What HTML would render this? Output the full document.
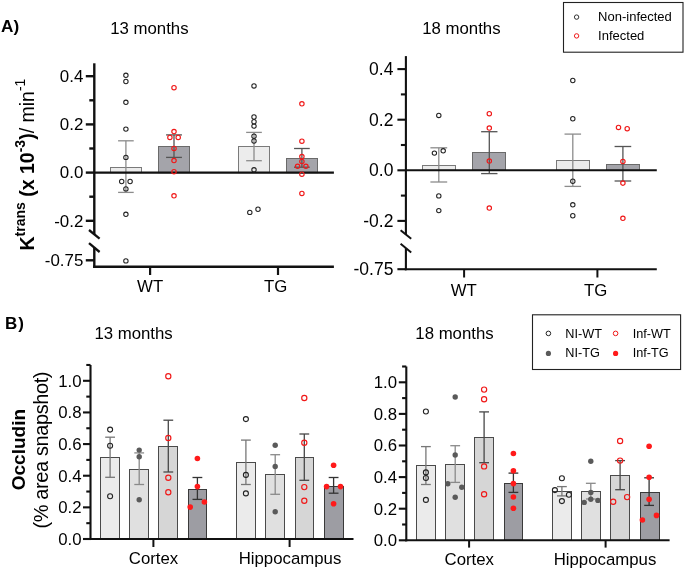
<!DOCTYPE html>
<html><head><meta charset="utf-8"><title>Figure</title>
<style>
html,body{margin:0;padding:0;background:#fff;}
body{width:685px;height:570px;overflow:hidden;}
svg{display:block;font-family:"Liberation Sans", Arial, sans-serif;}
</style></head>
<body>
<svg width="685" height="570" viewBox="0 0 685 570">
<rect x="0" y="0" width="685" height="570" fill="#fff"/>
<rect x="110.50" y="167.50" width="31.00" height="5.10" fill="#ececec" stroke="#7a7a7a" stroke-width="1.0"/>
<rect x="158.50" y="146.50" width="31.00" height="26.10" fill="#a4a4aa" stroke="#6a6a6a" stroke-width="1.0"/>
<rect x="238.50" y="146.50" width="31.00" height="26.10" fill="#ececec" stroke="#7a7a7a" stroke-width="1.0"/>
<rect x="286.50" y="158.50" width="31.00" height="14.10" fill="#a4a4aa" stroke="#6a6a6a" stroke-width="1.0"/>
<line x1="125.90" y1="140.80" x2="125.90" y2="192.40" stroke="#8c8c8c" stroke-width="1.3"/>
<line x1="118.08" y1="140.80" x2="133.72" y2="140.80" stroke="#8c8c8c" stroke-width="1.3"/>
<line x1="118.08" y1="192.40" x2="133.72" y2="192.40" stroke="#8c8c8c" stroke-width="1.3"/>
<line x1="174.00" y1="134.90" x2="174.00" y2="157.40" stroke="#555" stroke-width="1.3"/>
<line x1="166.07" y1="134.90" x2="181.93" y2="134.90" stroke="#555" stroke-width="1.3"/>
<line x1="166.07" y1="157.40" x2="181.93" y2="157.40" stroke="#555" stroke-width="1.3"/>
<line x1="254.00" y1="132.40" x2="254.00" y2="160.70" stroke="#8c8c8c" stroke-width="1.3"/>
<line x1="246.15" y1="132.40" x2="261.85" y2="132.40" stroke="#8c8c8c" stroke-width="1.3"/>
<line x1="246.15" y1="160.70" x2="261.85" y2="160.70" stroke="#8c8c8c" stroke-width="1.3"/>
<line x1="301.90" y1="148.50" x2="301.90" y2="167.20" stroke="#555" stroke-width="1.3"/>
<line x1="294.05" y1="148.50" x2="309.75" y2="148.50" stroke="#555" stroke-width="1.3"/>
<line x1="294.05" y1="167.20" x2="309.75" y2="167.20" stroke="#555" stroke-width="1.3"/>
<line x1="94.30" y1="172.60" x2="333.90" y2="172.60" stroke="#111" stroke-width="2.4"/>
<circle cx="125.90" cy="75.30" r="2.2" fill="none" stroke="#222" stroke-width="1.05"/>
<circle cx="125.90" cy="81.50" r="2.2" fill="none" stroke="#222" stroke-width="1.05"/>
<circle cx="125.90" cy="102.30" r="2.2" fill="none" stroke="#222" stroke-width="1.05"/>
<circle cx="125.90" cy="129.10" r="2.2" fill="none" stroke="#222" stroke-width="1.05"/>
<circle cx="125.90" cy="157.40" r="2.2" fill="none" stroke="#222" stroke-width="1.05"/>
<circle cx="121.70" cy="181.50" r="2.2" fill="none" stroke="#222" stroke-width="1.05"/>
<circle cx="130.10" cy="181.50" r="2.2" fill="none" stroke="#222" stroke-width="1.05"/>
<circle cx="125.90" cy="188.90" r="2.2" fill="none" stroke="#222" stroke-width="1.05"/>
<circle cx="125.90" cy="214.30" r="2.2" fill="none" stroke="#222" stroke-width="1.05"/>
<circle cx="125.90" cy="260.90" r="2.2" fill="none" stroke="#222" stroke-width="1.05"/>
<circle cx="254.00" cy="85.90" r="2.2" fill="none" stroke="#222" stroke-width="1.05"/>
<circle cx="254.00" cy="117.00" r="2.2" fill="none" stroke="#222" stroke-width="1.05"/>
<circle cx="254.00" cy="121.70" r="2.2" fill="none" stroke="#222" stroke-width="1.05"/>
<circle cx="254.00" cy="126.10" r="2.2" fill="none" stroke="#222" stroke-width="1.05"/>
<circle cx="254.00" cy="136.20" r="2.2" fill="none" stroke="#222" stroke-width="1.05"/>
<circle cx="254.00" cy="141.00" r="2.2" fill="none" stroke="#222" stroke-width="1.05"/>
<circle cx="254.00" cy="169.80" r="2.2" fill="none" stroke="#222" stroke-width="1.05"/>
<circle cx="249.80" cy="212.40" r="2.2" fill="none" stroke="#222" stroke-width="1.05"/>
<circle cx="258.00" cy="209.20" r="2.2" fill="none" stroke="#222" stroke-width="1.05"/>
<circle cx="174.00" cy="87.70" r="2.2" fill="none" stroke="#f01818" stroke-width="1.15"/>
<circle cx="174.00" cy="131.60" r="2.2" fill="none" stroke="#f01818" stroke-width="1.15"/>
<circle cx="169.90" cy="137.40" r="2.2" fill="none" stroke="#f01818" stroke-width="1.15"/>
<circle cx="178.20" cy="137.40" r="2.2" fill="none" stroke="#f01818" stroke-width="1.15"/>
<circle cx="174.00" cy="148.40" r="2.2" fill="none" stroke="#f01818" stroke-width="1.15"/>
<circle cx="174.00" cy="160.50" r="2.2" fill="none" stroke="#f01818" stroke-width="1.15"/>
<circle cx="174.00" cy="171.70" r="2.2" fill="none" stroke="#f01818" stroke-width="1.15"/>
<circle cx="174.00" cy="195.80" r="2.2" fill="none" stroke="#f01818" stroke-width="1.15"/>
<circle cx="301.90" cy="103.80" r="2.2" fill="none" stroke="#f01818" stroke-width="1.15"/>
<circle cx="301.90" cy="141.20" r="2.2" fill="none" stroke="#f01818" stroke-width="1.15"/>
<circle cx="301.90" cy="156.60" r="2.2" fill="none" stroke="#f01818" stroke-width="1.15"/>
<circle cx="301.90" cy="161.40" r="2.2" fill="none" stroke="#f01818" stroke-width="1.15"/>
<circle cx="297.60" cy="166.30" r="2.2" fill="none" stroke="#f01818" stroke-width="1.15"/>
<circle cx="305.90" cy="166.30" r="2.2" fill="none" stroke="#f01818" stroke-width="1.15"/>
<circle cx="301.90" cy="174.20" r="2.2" fill="none" stroke="#f01818" stroke-width="1.15"/>
<circle cx="301.90" cy="193.40" r="2.2" fill="none" stroke="#f01818" stroke-width="1.15"/>
<line x1="94.30" y1="63.30" x2="94.30" y2="234.30" stroke="#111" stroke-width="2.4"/>
<line x1="94.30" y1="247.60" x2="94.30" y2="267.90" stroke="#111" stroke-width="2.4"/>
<line x1="89.00" y1="230.00" x2="99.60" y2="238.60" stroke="#111" stroke-width="2.28"/>
<line x1="89.00" y1="243.20" x2="99.60" y2="252.00" stroke="#111" stroke-width="2.28"/>
<line x1="85.80" y1="76.20" x2="94.30" y2="76.20" stroke="#111" stroke-width="2.4"/>
<line x1="85.80" y1="124.40" x2="94.30" y2="124.40" stroke="#111" stroke-width="2.4"/>
<line x1="85.80" y1="172.60" x2="94.30" y2="172.60" stroke="#111" stroke-width="2.4"/>
<line x1="85.80" y1="220.80" x2="94.30" y2="220.80" stroke="#111" stroke-width="2.4"/>
<line x1="89.30" y1="100.30" x2="94.30" y2="100.30" stroke="#111" stroke-width="2.4"/>
<line x1="89.30" y1="148.50" x2="94.30" y2="148.50" stroke="#111" stroke-width="2.4"/>
<line x1="89.30" y1="196.70" x2="94.30" y2="196.70" stroke="#111" stroke-width="2.4"/>
<line x1="85.80" y1="260.30" x2="94.30" y2="260.30" stroke="#111" stroke-width="2.4"/>
<line x1="93.10" y1="266.70" x2="333.90" y2="266.70" stroke="#111" stroke-width="2.4"/>
<text x="83.30" y="81.95" font-size="16.9" text-anchor="end" font-weight="normal" fill="#000" >0.4</text>
<text x="83.30" y="130.15" font-size="16.9" text-anchor="end" font-weight="normal" fill="#000" >0.2</text>
<text x="83.30" y="178.35" font-size="16.9" text-anchor="end" font-weight="normal" fill="#000" >0.0</text>
<text x="83.30" y="226.55" font-size="16.9" text-anchor="end" font-weight="normal" fill="#000" >-0.2</text>
<text x="83.30" y="266.05" font-size="16.9" text-anchor="end" font-weight="normal" fill="#000" >-0.75</text>
<line x1="150.10" y1="266.70" x2="150.10" y2="275.00" stroke="#111" stroke-width="2.2"/>
<line x1="278.00" y1="266.70" x2="278.00" y2="275.00" stroke="#111" stroke-width="2.2"/>
<text x="150.10" y="292.40" font-size="16.8" text-anchor="middle" font-weight="normal" fill="#000" >WT</text>
<text x="275.60" y="292.40" font-size="16.8" text-anchor="middle" font-weight="normal" fill="#000" >TG</text>
<rect x="422.50" y="165.50" width="33.00" height="4.80" fill="#ececec" stroke="#7a7a7a" stroke-width="1.0"/>
<rect x="472.50" y="152.50" width="33.00" height="17.80" fill="#a4a4aa" stroke="#6a6a6a" stroke-width="1.0"/>
<rect x="556.50" y="160.50" width="33.00" height="9.80" fill="#ececec" stroke="#7a7a7a" stroke-width="1.0"/>
<rect x="606.50" y="164.50" width="33.00" height="5.80" fill="#a4a4aa" stroke="#6a6a6a" stroke-width="1.0"/>
<line x1="438.80" y1="147.80" x2="438.80" y2="182.00" stroke="#8c8c8c" stroke-width="1.3"/>
<line x1="430.40" y1="147.80" x2="447.20" y2="147.80" stroke="#8c8c8c" stroke-width="1.3"/>
<line x1="430.40" y1="182.00" x2="447.20" y2="182.00" stroke="#8c8c8c" stroke-width="1.3"/>
<line x1="489.30" y1="131.70" x2="489.30" y2="173.60" stroke="#555" stroke-width="1.3"/>
<line x1="481.12" y1="131.70" x2="497.48" y2="131.70" stroke="#555" stroke-width="1.3"/>
<line x1="481.12" y1="173.60" x2="497.48" y2="173.60" stroke="#555" stroke-width="1.3"/>
<line x1="572.80" y1="134.10" x2="572.80" y2="186.40" stroke="#8c8c8c" stroke-width="1.3"/>
<line x1="564.52" y1="134.10" x2="581.07" y2="134.10" stroke="#8c8c8c" stroke-width="1.3"/>
<line x1="564.52" y1="186.40" x2="581.07" y2="186.40" stroke="#8c8c8c" stroke-width="1.3"/>
<line x1="622.90" y1="146.50" x2="622.90" y2="181.00" stroke="#555" stroke-width="1.3"/>
<line x1="614.58" y1="146.50" x2="631.22" y2="146.50" stroke="#555" stroke-width="1.3"/>
<line x1="614.58" y1="181.00" x2="631.22" y2="181.00" stroke="#555" stroke-width="1.3"/>
<line x1="405.90" y1="170.30" x2="656.80" y2="170.30" stroke="#111" stroke-width="2.1"/>
<circle cx="438.80" cy="115.40" r="2.2" fill="none" stroke="#222" stroke-width="1.05"/>
<circle cx="434.40" cy="153.10" r="2.2" fill="none" stroke="#222" stroke-width="1.05"/>
<circle cx="443.20" cy="150.80" r="2.2" fill="none" stroke="#222" stroke-width="1.05"/>
<circle cx="438.80" cy="195.90" r="2.2" fill="none" stroke="#222" stroke-width="1.05"/>
<circle cx="438.80" cy="210.60" r="2.2" fill="none" stroke="#222" stroke-width="1.05"/>
<circle cx="572.80" cy="80.50" r="2.2" fill="none" stroke="#222" stroke-width="1.05"/>
<circle cx="572.80" cy="118.70" r="2.2" fill="none" stroke="#222" stroke-width="1.05"/>
<circle cx="572.80" cy="181.20" r="2.2" fill="none" stroke="#222" stroke-width="1.05"/>
<circle cx="572.80" cy="204.80" r="2.2" fill="none" stroke="#222" stroke-width="1.05"/>
<circle cx="572.80" cy="215.70" r="2.2" fill="none" stroke="#222" stroke-width="1.05"/>
<circle cx="489.30" cy="113.70" r="2.2" fill="none" stroke="#f01818" stroke-width="1.15"/>
<circle cx="489.30" cy="128.00" r="2.2" fill="none" stroke="#f01818" stroke-width="1.15"/>
<circle cx="489.30" cy="161.00" r="2.2" fill="none" stroke="#f01818" stroke-width="1.15"/>
<circle cx="489.30" cy="208.00" r="2.2" fill="none" stroke="#f01818" stroke-width="1.15"/>
<circle cx="618.50" cy="127.40" r="2.2" fill="none" stroke="#f01818" stroke-width="1.15"/>
<circle cx="627.20" cy="128.70" r="2.2" fill="none" stroke="#f01818" stroke-width="1.15"/>
<circle cx="622.90" cy="161.40" r="2.2" fill="none" stroke="#f01818" stroke-width="1.15"/>
<circle cx="622.90" cy="183.10" r="2.2" fill="none" stroke="#f01818" stroke-width="1.15"/>
<circle cx="622.90" cy="218.30" r="2.2" fill="none" stroke="#f01818" stroke-width="1.15"/>
<line x1="405.90" y1="56.10" x2="405.90" y2="234.50" stroke="#111" stroke-width="2.1"/>
<line x1="405.90" y1="248.20" x2="405.90" y2="270.25" stroke="#111" stroke-width="2.1"/>
<line x1="400.60" y1="230.20" x2="411.20" y2="238.80" stroke="#111" stroke-width="1.9949999999999999"/>
<line x1="400.60" y1="243.80" x2="411.20" y2="252.60" stroke="#111" stroke-width="1.9949999999999999"/>
<line x1="397.40" y1="69.10" x2="405.90" y2="69.10" stroke="#111" stroke-width="2.1"/>
<line x1="397.40" y1="119.70" x2="405.90" y2="119.70" stroke="#111" stroke-width="2.1"/>
<line x1="397.40" y1="170.30" x2="405.90" y2="170.30" stroke="#111" stroke-width="2.1"/>
<line x1="397.40" y1="220.90" x2="405.90" y2="220.90" stroke="#111" stroke-width="2.1"/>
<line x1="400.90" y1="94.40" x2="405.90" y2="94.40" stroke="#111" stroke-width="2.1"/>
<line x1="400.90" y1="145.00" x2="405.90" y2="145.00" stroke="#111" stroke-width="2.1"/>
<line x1="400.90" y1="195.60" x2="405.90" y2="195.60" stroke="#111" stroke-width="2.1"/>
<line x1="397.40" y1="269.20" x2="405.90" y2="269.20" stroke="#111" stroke-width="2.1"/>
<line x1="404.85" y1="269.20" x2="656.80" y2="269.20" stroke="#111" stroke-width="2.1"/>
<text x="393.40" y="75.05" font-size="17.5" text-anchor="end" font-weight="normal" fill="#000" >0.4</text>
<text x="393.40" y="125.65" font-size="17.5" text-anchor="end" font-weight="normal" fill="#000" >0.2</text>
<text x="393.40" y="176.25" font-size="17.5" text-anchor="end" font-weight="normal" fill="#000" >0.0</text>
<text x="393.40" y="226.85" font-size="17.5" text-anchor="end" font-weight="normal" fill="#000" >-0.2</text>
<text x="393.40" y="275.15" font-size="17.5" text-anchor="end" font-weight="normal" fill="#000" >-0.75</text>
<line x1="464.10" y1="269.20" x2="464.10" y2="277.50" stroke="#111" stroke-width="2.0"/>
<line x1="597.40" y1="269.20" x2="597.40" y2="277.50" stroke="#111" stroke-width="2.0"/>
<text x="463.80" y="296.20" font-size="16.8" text-anchor="middle" font-weight="normal" fill="#000" >WT</text>
<text x="595.70" y="296.20" font-size="16.8" text-anchor="middle" font-weight="normal" fill="#000" >TG</text>
<text x="1.10" y="31.70" font-size="17.2" text-anchor="start" font-weight="bold" fill="#000" >A)</text>
<text x="110.20" y="34.10" font-size="16.8" text-anchor="start" font-weight="normal" fill="#000" >13 months</text>
<text x="422.20" y="34.10" font-size="16.8" text-anchor="start" font-weight="normal" fill="#000" >18 months</text>
<rect x="563.50" y="2.50" width="119.50" height="49.70" fill="none" stroke="#222" stroke-width="1.1"/>
<circle cx="576.60" cy="17.10" r="2.2" fill="none" stroke="#333" stroke-width="1.0"/>
<circle cx="576.60" cy="35.90" r="2.2" fill="none" stroke="#f01818" stroke-width="1.0"/>
<text x="598.10" y="21.40" font-size="13" text-anchor="start" font-weight="normal" fill="#000" >Non-infected</text>
<text x="598.10" y="40.20" font-size="13" text-anchor="start" font-weight="normal" fill="#000" >Infected</text>
<text transform="translate(34.1,250.5) rotate(-90)" font-size="19.5" font-weight="bold" fill="#000">K<tspan font-size="14" dy="-8.8">trans</tspan><tspan dy="8.8"> (x 10</tspan><tspan font-size="14" dy="-8.8">-3</tspan><tspan dy="8.8">)</tspan><tspan font-weight="normal">/ min</tspan><tspan font-weight="normal" font-size="14" dy="-8.8">-1</tspan></text>
<rect x="100.50" y="457.50" width="19.00" height="81.50" fill="#ebebeb" stroke="#4a4a4a" stroke-width="1.0"/>
<rect x="129.50" y="469.50" width="19.00" height="69.50" fill="#e0e0e0" stroke="#4a4a4a" stroke-width="1.0"/>
<rect x="158.50" y="446.50" width="19.00" height="92.50" fill="#d6d6d6" stroke="#4a4a4a" stroke-width="1.0"/>
<rect x="188.50" y="489.50" width="18.00" height="49.50" fill="#9d9da3" stroke="#3a3a3a" stroke-width="1.0"/>
<rect x="236.50" y="462.50" width="19.00" height="76.50" fill="#ebebeb" stroke="#4a4a4a" stroke-width="1.0"/>
<rect x="265.50" y="474.50" width="19.00" height="64.50" fill="#e0e0e0" stroke="#4a4a4a" stroke-width="1.0"/>
<rect x="295.50" y="457.50" width="18.00" height="81.50" fill="#d6d6d6" stroke="#4a4a4a" stroke-width="1.0"/>
<rect x="324.50" y="486.50" width="19.00" height="52.50" fill="#9d9da3" stroke="#3a3a3a" stroke-width="1.0"/>
<line x1="110.10" y1="437.20" x2="110.10" y2="477.30" stroke="#777" stroke-width="1.3"/>
<line x1="105.20" y1="437.20" x2="115.00" y2="437.20" stroke="#777" stroke-width="1.3"/>
<line x1="105.20" y1="477.30" x2="115.00" y2="477.30" stroke="#777" stroke-width="1.3"/>
<line x1="139.20" y1="452.90" x2="139.20" y2="484.50" stroke="#8a8a8a" stroke-width="1.3"/>
<line x1="134.30" y1="452.90" x2="144.10" y2="452.90" stroke="#8a8a8a" stroke-width="1.3"/>
<line x1="134.30" y1="484.50" x2="144.10" y2="484.50" stroke="#8a8a8a" stroke-width="1.3"/>
<line x1="168.30" y1="420.20" x2="168.30" y2="472.00" stroke="#474747" stroke-width="1.3"/>
<line x1="163.40" y1="420.20" x2="173.20" y2="420.20" stroke="#474747" stroke-width="1.3"/>
<line x1="163.40" y1="472.00" x2="173.20" y2="472.00" stroke="#474747" stroke-width="1.3"/>
<line x1="197.40" y1="477.50" x2="197.40" y2="499.40" stroke="#333" stroke-width="1.3"/>
<line x1="192.50" y1="477.50" x2="202.30" y2="477.50" stroke="#333" stroke-width="1.3"/>
<line x1="192.50" y1="499.40" x2="202.30" y2="499.40" stroke="#333" stroke-width="1.3"/>
<line x1="245.90" y1="440.10" x2="245.90" y2="484.50" stroke="#777" stroke-width="1.3"/>
<line x1="241.00" y1="440.10" x2="250.80" y2="440.10" stroke="#777" stroke-width="1.3"/>
<line x1="241.00" y1="484.50" x2="250.80" y2="484.50" stroke="#777" stroke-width="1.3"/>
<line x1="275.20" y1="454.70" x2="275.20" y2="494.30" stroke="#8a8a8a" stroke-width="1.3"/>
<line x1="270.30" y1="454.70" x2="280.10" y2="454.70" stroke="#8a8a8a" stroke-width="1.3"/>
<line x1="270.30" y1="494.30" x2="280.10" y2="494.30" stroke="#8a8a8a" stroke-width="1.3"/>
<line x1="304.30" y1="434.00" x2="304.30" y2="480.30" stroke="#474747" stroke-width="1.3"/>
<line x1="299.40" y1="434.00" x2="309.20" y2="434.00" stroke="#474747" stroke-width="1.3"/>
<line x1="299.40" y1="480.30" x2="309.20" y2="480.30" stroke="#474747" stroke-width="1.3"/>
<line x1="333.60" y1="477.50" x2="333.60" y2="493.20" stroke="#333" stroke-width="1.3"/>
<line x1="328.70" y1="477.50" x2="338.50" y2="477.50" stroke="#333" stroke-width="1.3"/>
<line x1="328.70" y1="493.20" x2="338.50" y2="493.20" stroke="#333" stroke-width="1.3"/>
<circle cx="110.10" cy="429.60" r="2.5" fill="none" stroke="#222" stroke-width="1.1"/>
<circle cx="110.10" cy="445.80" r="2.5" fill="none" stroke="#222" stroke-width="1.1"/>
<circle cx="110.10" cy="496.20" r="2.5" fill="none" stroke="#222" stroke-width="1.1"/>
<circle cx="139.20" cy="450.10" r="2.7" fill="#5a5a5a" stroke="none" stroke-width="0"/>
<circle cx="139.20" cy="456.80" r="2.7" fill="#5a5a5a" stroke="none" stroke-width="0"/>
<circle cx="139.20" cy="499.70" r="2.7" fill="#5a5a5a" stroke="none" stroke-width="0"/>
<circle cx="168.30" cy="376.20" r="2.6" fill="none" stroke="#f01818" stroke-width="1.15"/>
<circle cx="168.30" cy="438.00" r="2.6" fill="none" stroke="#f01818" stroke-width="1.15"/>
<circle cx="168.30" cy="477.80" r="2.6" fill="none" stroke="#f01818" stroke-width="1.15"/>
<circle cx="168.30" cy="492.20" r="2.6" fill="none" stroke="#f01818" stroke-width="1.15"/>
<circle cx="197.40" cy="458.50" r="2.8" fill="#ff1a1a" stroke="none" stroke-width="0"/>
<circle cx="197.40" cy="486.60" r="2.8" fill="#ff1a1a" stroke="none" stroke-width="0"/>
<circle cx="190.20" cy="507.10" r="2.8" fill="#ff1a1a" stroke="none" stroke-width="0"/>
<circle cx="204.40" cy="502.00" r="2.8" fill="#ff1a1a" stroke="none" stroke-width="0"/>
<circle cx="245.90" cy="419.10" r="2.5" fill="none" stroke="#222" stroke-width="1.1"/>
<circle cx="245.90" cy="474.90" r="2.5" fill="none" stroke="#222" stroke-width="1.1"/>
<circle cx="245.90" cy="493.40" r="2.5" fill="none" stroke="#222" stroke-width="1.1"/>
<circle cx="275.20" cy="445.20" r="2.7" fill="#5a5a5a" stroke="none" stroke-width="0"/>
<circle cx="275.20" cy="466.50" r="2.7" fill="#5a5a5a" stroke="none" stroke-width="0"/>
<circle cx="275.20" cy="511.70" r="2.7" fill="#5a5a5a" stroke="none" stroke-width="0"/>
<circle cx="304.30" cy="398.00" r="2.6" fill="none" stroke="#f01818" stroke-width="1.15"/>
<circle cx="304.30" cy="442.70" r="2.6" fill="none" stroke="#f01818" stroke-width="1.15"/>
<circle cx="304.30" cy="487.10" r="2.6" fill="none" stroke="#f01818" stroke-width="1.15"/>
<circle cx="304.30" cy="500.80" r="2.6" fill="none" stroke="#f01818" stroke-width="1.15"/>
<circle cx="333.60" cy="465.20" r="2.8" fill="#ff1a1a" stroke="none" stroke-width="0"/>
<circle cx="326.60" cy="486.60" r="2.8" fill="#ff1a1a" stroke="none" stroke-width="0"/>
<circle cx="340.50" cy="486.60" r="2.8" fill="#ff1a1a" stroke="none" stroke-width="0"/>
<circle cx="333.60" cy="503.80" r="2.8" fill="#ff1a1a" stroke="none" stroke-width="0"/>
<line x1="90.50" y1="364.98" x2="90.50" y2="540.05" stroke="#111" stroke-width="2.1"/>
<line x1="89.45" y1="539.00" x2="353.50" y2="539.00" stroke="#111" stroke-width="2.1"/>
<line x1="83.00" y1="539.00" x2="90.50" y2="539.00" stroke="#111" stroke-width="2.1"/>
<text x="81.60" y="544.96" font-size="16.8" text-anchor="end" font-weight="normal" fill="#000" >0.0</text>
<line x1="86.30" y1="523.18" x2="90.50" y2="523.18" stroke="#111" stroke-width="2.1"/>
<line x1="83.00" y1="507.36" x2="90.50" y2="507.36" stroke="#111" stroke-width="2.1"/>
<text x="81.60" y="513.32" font-size="16.8" text-anchor="end" font-weight="normal" fill="#000" >0.2</text>
<line x1="86.30" y1="491.54" x2="90.50" y2="491.54" stroke="#111" stroke-width="2.1"/>
<line x1="83.00" y1="475.72" x2="90.50" y2="475.72" stroke="#111" stroke-width="2.1"/>
<text x="81.60" y="481.68" font-size="16.8" text-anchor="end" font-weight="normal" fill="#000" >0.4</text>
<line x1="86.30" y1="459.90" x2="90.50" y2="459.90" stroke="#111" stroke-width="2.1"/>
<line x1="83.00" y1="444.08" x2="90.50" y2="444.08" stroke="#111" stroke-width="2.1"/>
<text x="81.60" y="450.04" font-size="16.8" text-anchor="end" font-weight="normal" fill="#000" >0.6</text>
<line x1="86.30" y1="428.26" x2="90.50" y2="428.26" stroke="#111" stroke-width="2.1"/>
<line x1="83.00" y1="412.44" x2="90.50" y2="412.44" stroke="#111" stroke-width="2.1"/>
<text x="81.60" y="418.40" font-size="16.8" text-anchor="end" font-weight="normal" fill="#000" >0.8</text>
<line x1="86.30" y1="396.62" x2="90.50" y2="396.62" stroke="#111" stroke-width="2.1"/>
<line x1="83.00" y1="380.80" x2="90.50" y2="380.80" stroke="#111" stroke-width="2.1"/>
<text x="81.60" y="386.76" font-size="16.8" text-anchor="end" font-weight="normal" fill="#000" >1.0</text>
<line x1="86.30" y1="364.98" x2="90.50" y2="364.98" stroke="#111" stroke-width="2.1"/>
<line x1="153.40" y1="539.00" x2="153.40" y2="547.00" stroke="#111" stroke-width="2.0"/>
<line x1="289.60" y1="539.00" x2="289.60" y2="547.00" stroke="#111" stroke-width="2.0"/>
<text x="153.50" y="563.70" font-size="16.8" text-anchor="middle" font-weight="normal" fill="#000" >Cortex</text>
<text x="290.00" y="563.70" font-size="16.8" text-anchor="middle" font-weight="normal" fill="#000" >Hippocampus</text>
<rect x="416.50" y="465.50" width="19.00" height="74.80" fill="#ebebeb" stroke="#4a4a4a" stroke-width="1.0"/>
<rect x="445.50" y="464.50" width="19.00" height="75.80" fill="#e0e0e0" stroke="#4a4a4a" stroke-width="1.0"/>
<rect x="474.50" y="437.50" width="19.00" height="102.80" fill="#d6d6d6" stroke="#4a4a4a" stroke-width="1.0"/>
<rect x="504.50" y="483.50" width="18.00" height="56.80" fill="#9d9da3" stroke="#3a3a3a" stroke-width="1.0"/>
<rect x="552.50" y="491.50" width="19.00" height="48.80" fill="#ebebeb" stroke="#4a4a4a" stroke-width="1.0"/>
<rect x="581.50" y="491.50" width="19.00" height="48.80" fill="#e0e0e0" stroke="#4a4a4a" stroke-width="1.0"/>
<rect x="610.50" y="475.50" width="19.00" height="64.80" fill="#d6d6d6" stroke="#4a4a4a" stroke-width="1.0"/>
<rect x="640.50" y="492.50" width="19.00" height="47.80" fill="#9d9da3" stroke="#3a3a3a" stroke-width="1.0"/>
<line x1="425.90" y1="446.60" x2="425.90" y2="484.50" stroke="#777" stroke-width="1.3"/>
<line x1="421.00" y1="446.60" x2="430.80" y2="446.60" stroke="#777" stroke-width="1.3"/>
<line x1="421.00" y1="484.50" x2="430.80" y2="484.50" stroke="#777" stroke-width="1.3"/>
<line x1="455.20" y1="445.70" x2="455.20" y2="482.40" stroke="#8a8a8a" stroke-width="1.3"/>
<line x1="450.30" y1="445.70" x2="460.10" y2="445.70" stroke="#8a8a8a" stroke-width="1.3"/>
<line x1="450.30" y1="482.40" x2="460.10" y2="482.40" stroke="#8a8a8a" stroke-width="1.3"/>
<line x1="484.10" y1="411.90" x2="484.10" y2="462.70" stroke="#474747" stroke-width="1.3"/>
<line x1="479.20" y1="411.90" x2="489.00" y2="411.90" stroke="#474747" stroke-width="1.3"/>
<line x1="479.20" y1="462.70" x2="489.00" y2="462.70" stroke="#474747" stroke-width="1.3"/>
<line x1="513.40" y1="473.10" x2="513.40" y2="492.40" stroke="#333" stroke-width="1.3"/>
<line x1="508.50" y1="473.10" x2="518.30" y2="473.10" stroke="#333" stroke-width="1.3"/>
<line x1="508.50" y1="492.40" x2="518.30" y2="492.40" stroke="#333" stroke-width="1.3"/>
<line x1="561.90" y1="486.60" x2="561.90" y2="495.90" stroke="#777" stroke-width="1.3"/>
<line x1="557.00" y1="486.60" x2="566.80" y2="486.60" stroke="#777" stroke-width="1.3"/>
<line x1="557.00" y1="495.90" x2="566.80" y2="495.90" stroke="#777" stroke-width="1.3"/>
<line x1="590.80" y1="483.30" x2="590.80" y2="499.00" stroke="#8a8a8a" stroke-width="1.3"/>
<line x1="585.90" y1="483.30" x2="595.70" y2="483.30" stroke="#8a8a8a" stroke-width="1.3"/>
<line x1="585.90" y1="499.00" x2="595.70" y2="499.00" stroke="#8a8a8a" stroke-width="1.3"/>
<line x1="620.10" y1="460.60" x2="620.10" y2="489.70" stroke="#474747" stroke-width="1.3"/>
<line x1="615.20" y1="460.60" x2="625.00" y2="460.60" stroke="#474747" stroke-width="1.3"/>
<line x1="615.20" y1="489.70" x2="625.00" y2="489.70" stroke="#474747" stroke-width="1.3"/>
<line x1="649.10" y1="477.80" x2="649.10" y2="505.40" stroke="#333" stroke-width="1.3"/>
<line x1="644.20" y1="477.80" x2="654.00" y2="477.80" stroke="#333" stroke-width="1.3"/>
<line x1="644.20" y1="505.40" x2="654.00" y2="505.40" stroke="#333" stroke-width="1.3"/>
<circle cx="425.90" cy="411.50" r="2.5" fill="none" stroke="#222" stroke-width="1.1"/>
<circle cx="425.90" cy="472.40" r="2.5" fill="none" stroke="#222" stroke-width="1.1"/>
<circle cx="425.90" cy="478.00" r="2.5" fill="none" stroke="#222" stroke-width="1.1"/>
<circle cx="425.90" cy="499.90" r="2.5" fill="none" stroke="#222" stroke-width="1.1"/>
<circle cx="455.20" cy="397.00" r="2.7" fill="#5a5a5a" stroke="none" stroke-width="0"/>
<circle cx="455.20" cy="455.00" r="2.7" fill="#5a5a5a" stroke="none" stroke-width="0"/>
<circle cx="447.80" cy="483.80" r="2.7" fill="#5a5a5a" stroke="none" stroke-width="0"/>
<circle cx="461.80" cy="487.30" r="2.7" fill="#5a5a5a" stroke="none" stroke-width="0"/>
<circle cx="455.20" cy="497.30" r="2.7" fill="#5a5a5a" stroke="none" stroke-width="0"/>
<circle cx="484.10" cy="389.60" r="2.6" fill="none" stroke="#f01818" stroke-width="1.15"/>
<circle cx="484.10" cy="399.30" r="2.6" fill="none" stroke="#f01818" stroke-width="1.15"/>
<circle cx="484.10" cy="466.40" r="2.6" fill="none" stroke="#f01818" stroke-width="1.15"/>
<circle cx="484.10" cy="494.30" r="2.6" fill="none" stroke="#f01818" stroke-width="1.15"/>
<circle cx="513.40" cy="453.50" r="2.8" fill="#ff1a1a" stroke="none" stroke-width="0"/>
<circle cx="513.40" cy="470.70" r="2.8" fill="#ff1a1a" stroke="none" stroke-width="0"/>
<circle cx="513.40" cy="483.60" r="2.8" fill="#ff1a1a" stroke="none" stroke-width="0"/>
<circle cx="513.40" cy="497.00" r="2.8" fill="#ff1a1a" stroke="none" stroke-width="0"/>
<circle cx="513.40" cy="508.30" r="2.8" fill="#ff1a1a" stroke="none" stroke-width="0"/>
<circle cx="561.90" cy="478.30" r="2.5" fill="none" stroke="#222" stroke-width="1.1"/>
<circle cx="554.90" cy="490.10" r="2.5" fill="none" stroke="#222" stroke-width="1.1"/>
<circle cx="568.90" cy="494.80" r="2.5" fill="none" stroke="#222" stroke-width="1.1"/>
<circle cx="561.90" cy="501.10" r="2.5" fill="none" stroke="#222" stroke-width="1.1"/>
<circle cx="590.80" cy="461.20" r="2.7" fill="#5a5a5a" stroke="none" stroke-width="0"/>
<circle cx="590.80" cy="492.40" r="2.7" fill="#5a5a5a" stroke="none" stroke-width="0"/>
<circle cx="590.80" cy="499.30" r="2.7" fill="#5a5a5a" stroke="none" stroke-width="0"/>
<circle cx="584.20" cy="502.40" r="2.7" fill="#5a5a5a" stroke="none" stroke-width="0"/>
<circle cx="597.90" cy="500.40" r="2.7" fill="#5a5a5a" stroke="none" stroke-width="0"/>
<circle cx="620.10" cy="441.00" r="2.6" fill="none" stroke="#f01818" stroke-width="1.15"/>
<circle cx="620.10" cy="460.60" r="2.6" fill="none" stroke="#f01818" stroke-width="1.15"/>
<circle cx="613.20" cy="501.80" r="2.6" fill="none" stroke="#f01818" stroke-width="1.15"/>
<circle cx="627.10" cy="497.10" r="2.6" fill="none" stroke="#f01818" stroke-width="1.15"/>
<circle cx="649.10" cy="446.30" r="2.8" fill="#ff1a1a" stroke="none" stroke-width="0"/>
<circle cx="649.10" cy="477.30" r="2.8" fill="#ff1a1a" stroke="none" stroke-width="0"/>
<circle cx="649.10" cy="499.30" r="2.8" fill="#ff1a1a" stroke="none" stroke-width="0"/>
<circle cx="642.40" cy="520.00" r="2.8" fill="#ff1a1a" stroke="none" stroke-width="0"/>
<circle cx="656.50" cy="515.40" r="2.8" fill="#ff1a1a" stroke="none" stroke-width="0"/>
<line x1="406.30" y1="366.50" x2="406.30" y2="541.35" stroke="#111" stroke-width="2.1"/>
<line x1="405.25" y1="540.30" x2="669.60" y2="540.30" stroke="#111" stroke-width="2.1"/>
<line x1="398.80" y1="540.30" x2="406.30" y2="540.30" stroke="#111" stroke-width="2.1"/>
<text x="397.00" y="546.26" font-size="16.8" text-anchor="end" font-weight="normal" fill="#000" >0.0</text>
<line x1="402.10" y1="524.50" x2="406.30" y2="524.50" stroke="#111" stroke-width="2.1"/>
<line x1="398.80" y1="508.70" x2="406.30" y2="508.70" stroke="#111" stroke-width="2.1"/>
<text x="397.00" y="514.66" font-size="16.8" text-anchor="end" font-weight="normal" fill="#000" >0.2</text>
<line x1="402.10" y1="492.90" x2="406.30" y2="492.90" stroke="#111" stroke-width="2.1"/>
<line x1="398.80" y1="477.10" x2="406.30" y2="477.10" stroke="#111" stroke-width="2.1"/>
<text x="397.00" y="483.06" font-size="16.8" text-anchor="end" font-weight="normal" fill="#000" >0.4</text>
<line x1="402.10" y1="461.30" x2="406.30" y2="461.30" stroke="#111" stroke-width="2.1"/>
<line x1="398.80" y1="445.50" x2="406.30" y2="445.50" stroke="#111" stroke-width="2.1"/>
<text x="397.00" y="451.46" font-size="16.8" text-anchor="end" font-weight="normal" fill="#000" >0.6</text>
<line x1="402.10" y1="429.70" x2="406.30" y2="429.70" stroke="#111" stroke-width="2.1"/>
<line x1="398.80" y1="413.90" x2="406.30" y2="413.90" stroke="#111" stroke-width="2.1"/>
<text x="397.00" y="419.86" font-size="16.8" text-anchor="end" font-weight="normal" fill="#000" >0.8</text>
<line x1="402.10" y1="398.10" x2="406.30" y2="398.10" stroke="#111" stroke-width="2.1"/>
<line x1="398.80" y1="382.30" x2="406.30" y2="382.30" stroke="#111" stroke-width="2.1"/>
<text x="397.00" y="388.26" font-size="16.8" text-anchor="end" font-weight="normal" fill="#000" >1.0</text>
<line x1="402.10" y1="366.50" x2="406.30" y2="366.50" stroke="#111" stroke-width="2.1"/>
<line x1="469.10" y1="540.30" x2="469.10" y2="547.60" stroke="#111" stroke-width="2.0"/>
<line x1="605.60" y1="540.30" x2="605.60" y2="547.60" stroke="#111" stroke-width="2.0"/>
<text x="469.30" y="564.90" font-size="16.8" text-anchor="middle" font-weight="normal" fill="#000" >Cortex</text>
<text x="605.00" y="564.90" font-size="16.8" text-anchor="middle" font-weight="normal" fill="#000" >Hippocampus</text>
<text x="5.10" y="329.00" font-size="17" text-anchor="start" font-weight="bold" fill="#000" >B<tspan dx="0.8">)</tspan></text>
<text x="94.40" y="338.90" font-size="16.8" text-anchor="start" font-weight="normal" fill="#000" >13 months</text>
<text x="415.30" y="339.40" font-size="16.8" text-anchor="start" font-weight="normal" fill="#000" >18 months</text>
<rect x="532.50" y="314.80" width="148.10" height="54.70" fill="none" stroke="#222" stroke-width="1.1"/>
<circle cx="548.40" cy="333.40" r="2.3" fill="none" stroke="#222" stroke-width="1.0"/>
<circle cx="548.40" cy="353.40" r="2.6" fill="#5a5a5a" stroke="none" stroke-width="0"/>
<circle cx="615.60" cy="333.40" r="2.3" fill="none" stroke="#f01818" stroke-width="1.0"/>
<circle cx="615.60" cy="353.40" r="2.6" fill="#ff1a1a" stroke="none" stroke-width="0"/>
<text x="565.30" y="337.80" font-size="12.7" text-anchor="start" font-weight="normal" fill="#000" >NI-WT</text>
<text x="565.30" y="357.30" font-size="12.7" text-anchor="start" font-weight="normal" fill="#000" >NI-TG</text>
<text x="632.70" y="337.80" font-size="12.7" text-anchor="start" font-weight="normal" fill="#000" >Inf-WT</text>
<text x="632.70" y="357.30" font-size="12.7" text-anchor="start" font-weight="normal" fill="#000" >Inf-TG</text>
<text transform="translate(25.1,449.6) rotate(-90)" font-size="19" font-weight="bold" text-anchor="middle" fill="#000">Occludin</text>
<text transform="translate(47.6,450) rotate(-90)" font-size="20" text-anchor="middle" textLength="157" lengthAdjust="spacing" fill="#000">(% area snapshot)</text>
</svg>
</body></html>
